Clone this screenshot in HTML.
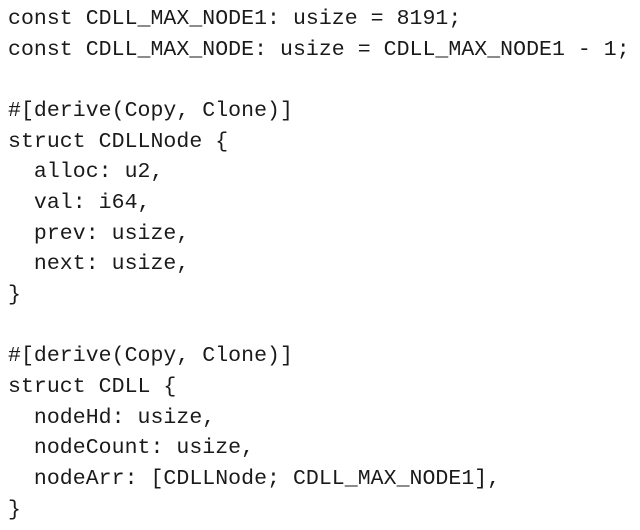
<!DOCTYPE html>
<html><head><style>
html,body{margin:0;padding:0;background:#fff;width:640px;height:530px;overflow:hidden}
pre{position:absolute;left:8px;top:4px;margin:0;font-family:"Liberation Mono",monospace;font-size:21.5px;line-height:30.65px;color:#1a1a1a;letter-spacing:0.05px}
</style></head><body>
<pre>const CDLL_MAX_NODE1: usize = 8191;
const CDLL_MAX_NODE: usize = CDLL_MAX_NODE1 - 1;

#[derive(Copy, Clone)]
struct CDLLNode {
  alloc: u2,
  val: i64,
  prev: usize,
  next: usize,
}

#[derive(Copy, Clone)]
struct CDLL {
  nodeHd: usize,
  nodeCount: usize,
  nodeArr: [CDLLNode; CDLL_MAX_NODE1],
}</pre>
</body></html>
